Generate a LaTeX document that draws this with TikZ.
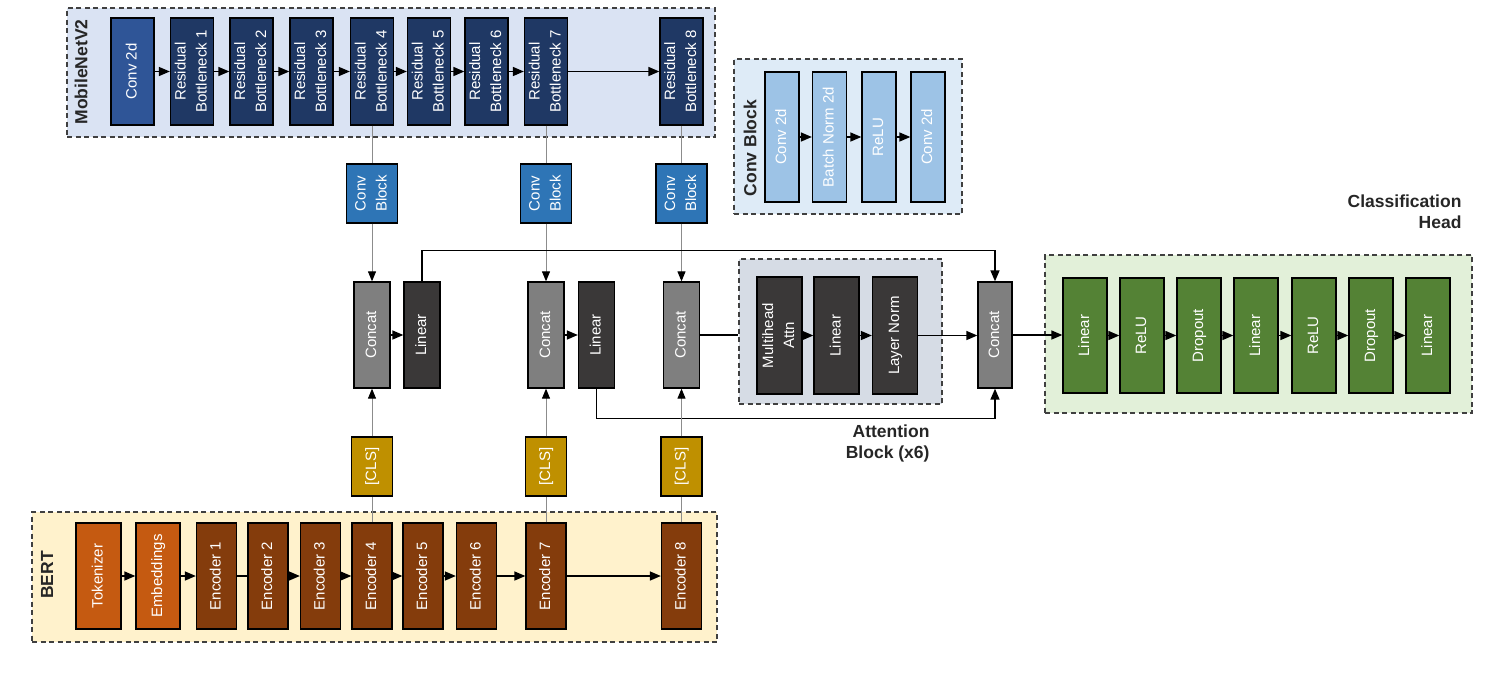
\documentclass[tikz,border=0pt]{standalone}
\usepackage{fontspec}
\setmainfont{Liberation Sans}
\usepackage{graphicx}
\usetikzlibrary{arrows.meta}

\definecolor{mnframe}{HTML}{DAE3F3}
\definecolor{convblue}{HTML}{2F5597}
\definecolor{rbnavy}{HTML}{1F3864}
\definecolor{cbframe}{HTML}{DEEBF7}
\definecolor{cblight}{HTML}{9DC3E6}
\definecolor{cbmid}{HTML}{2E75B6}
\definecolor{concatgray}{HTML}{7F7F7F}
\definecolor{lineardark}{HTML}{3A3838}
\definecolor{attnframe}{HTML}{D6DCE5}
\definecolor{headframe}{HTML}{E2F0D9}
\definecolor{headgreen}{HTML}{548235}
\definecolor{clsgold}{HTML}{BF9000}
\definecolor{bertframe}{HTML}{FFF2CC}
\definecolor{tokorange}{HTML}{C55A11}
\definecolor{encbrown}{HTML}{843C0C}
\definecolor{linkgray}{HTML}{8C8C8C}
\definecolor{framegray}{HTML}{404040}

\newcommand{\rottext}[1]{\rotatebox{90}{\begin{tabular}{@{}c@{}}#1\end{tabular}}}

\tikzset{
  box/.style={draw=black, line width=1.3pt, text=white, inner sep=0pt,
    font=\fontsize{15}{21}\selectfont},
  mnbox/.style={box, minimum width=43pt, minimum height=107pt},
  cbbox/.style={box, fill=cblight, minimum width=34pt, minimum height=130pt},
  midbox/.style={box, fill=cbmid, minimum width=51pt, minimum height=59pt},
  catbox/.style={box, fill=concatgray, minimum width=36pt, minimum height=106pt},
  linbox/.style={box, fill=lineardark, minimum width=36pt, minimum height=106pt},
  attbox/.style={box, fill=lineardark, minimum width=45pt, minimum height=117pt},
  headbox/.style={box, fill=headgreen, minimum width=44pt, minimum height=115pt},
  clsbox/.style={box, fill=clsgold, minimum width=41pt, minimum height=59pt},
  bertbox/.style={box, minimum width=40pt, minimum height=106pt},
  frame/.style={draw=framegray, line width=1.4pt, dash pattern=on 5pt off 3.5pt},
  lbl/.style={font=\fontsize{17.5}{21}\selectfont\bfseries, text=black!85},
  arr/.style={line width=1.5pt, -{Triangle[length=11pt,width=9pt]}},
  link/.style={line width=1.5pt},
  glink/.style={draw=linkgray, line width=1pt},
  garr/.style={glink, -{Triangle[length=10pt,width=8pt,color=black]}}
}

\begin{document}
\begin{tikzpicture}[x=1pt,y=-1pt]
    \useasboundingbox (0,0) rectangle (1496,691);

    % Frames
    \node[frame, fill=mnframe, minimum width=648pt, minimum height=129pt] (mnet) at (391,72.5) {};
    \node[frame, fill=cbframe, minimum width=228pt, minimum height=155pt] (cblk) at (848,136.5) {};
    \node[frame, fill=attnframe, minimum width=203pt, minimum height=145pt] (attn) at (840.5,331.5) {};
    \node[frame, fill=headframe, minimum width=427pt, minimum height=158pt] (head) at (1258.5,334) {};
    \node[frame, fill=bertframe, minimum width=685pt, minimum height=130pt] (bert) at (374.5,577) {};

    \node[lbl, rotate=90] (mnlabel) at (81,72) {MobileNetV2};
    \node[lbl, rotate=90] (cblabel) at (750,148) {Conv Block};
    \node[lbl, rotate=90] (bertlabel) at (47,575) {BERT};
    \node[lbl, align=right, anchor=east] (headlabel) at (1465,212) {Classification\\Head};
    \node[lbl, align=right, anchor=east] (attnlabel) at (933,443) {Attention\\Block (x6)};

    % MobileNetV2
    \node[mnbox, fill=convblue] (conv) at (132.5,71.5) {\rottext{Conv 2d}};
    \node[mnbox, fill=rbnavy] (rb1) at (192,71.5) {\rottext{Residual\\Bottleneck 1}};
    \node[mnbox, fill=rbnavy] (rb2) at (251.5,71.5) {\rottext{Residual\\Bottleneck 2}};
    \node[mnbox, fill=rbnavy] (rb3) at (311.5,71.5) {\rottext{Residual\\Bottleneck 3}};
    \node[mnbox, fill=rbnavy] (rb4) at (372,71.5) {\rottext{Residual\\Bottleneck 4}};
    \node[mnbox, fill=rbnavy] (rb5) at (429,71.5) {\rottext{Residual\\Bottleneck 5}};
    \node[mnbox, fill=rbnavy] (rb6) at (486.5,71.5) {\rottext{Residual\\Bottleneck 6}};
    \node[mnbox, fill=rbnavy] (rb7) at (546,71.5) {\rottext{Residual\\Bottleneck 7}};
    \node[mnbox, fill=rbnavy] (rb8) at (681.5,71.5) {\rottext{Residual\\Bottleneck 8}};
    \draw[arr] (conv) -- (rb1);
    \draw[arr] (rb1) -- (rb2);
    \draw[arr] (rb2) -- (rb3);
    \draw[arr] (rb3) -- (rb4);
    \draw[arr] (rb4) -- (rb5);
    \draw[arr] (rb5) -- (rb6);
    \draw[arr] (rb6) -- (rb7);
    \draw[arr] (rb7) -- (rb8);

    % Conv Block detail
    \node[cbbox] (cbconv1) at (782,137) {\rottext{Conv 2d}};
    \node[cbbox] (cbnorm) at (829.5,137) {\rottext{Batch Norm 2d}};
    \node[cbbox] (cbrelu) at (879,137) {\rottext{ReLU}};
    \node[cbbox] (cbconv2) at (928,137) {\rottext{Conv 2d}};
    \draw[arr] (cbconv1) -- (cbnorm);
    \draw[arr] (cbnorm) -- (cbrelu);
    \draw[arr] (cbrelu) -- (cbconv2);

    % Conv Blocks, Concats and Linears
    \node[midbox] (cb1) at (372,193.5) {\rottext{Conv\\Block}};
    \node[midbox] (cb2) at (546,193.5) {\rottext{Conv\\Block}};
    \node[midbox] (cb3) at (681.5,193.5) {\rottext{Conv\\Block}};
    \node[catbox] (cc1) at (372,335) {\rottext{Concat}};
    \node[linbox] (lin1) at (422,335) {\rottext{Linear}};
    \node[catbox] (cc2) at (546,335) {\rottext{Concat}};
    \node[linbox] (lin2) at (596.5,335) {\rottext{Linear}};
    \node[catbox] (cc3) at (681.5,335) {\rottext{Concat}};
    \node[catbox, minimum width=34pt] (cc4) at (995,335) {\rottext{Concat}};
    \draw[glink] (rb4) -- (cb1);
    \draw[glink] (rb7) -- (cb2);
    \draw[glink] (rb8) -- (cb3);
    \draw[garr] (cb1) -- (cc1);
    \draw[garr] (cb2) -- (cc2);
    \draw[garr] (cb3) -- (cc3);
    \draw[arr] (cc1) -- (lin1);
    \draw[arr] (cc2) -- (lin2);

    % Attention Block
    \node[attbox] (mha) at (779.5,335.5) {\rottext{Multihead\\Attn}};
    \node[attbox] (alin) at (836.5,335.5) {\rottext{Linear}};
    \node[attbox] (lnorm) at (895,335.5) {\rottext{Layer Norm}};
    \draw[link] (cc3.east) -- (attn.west |- cc3.east);
    \draw[arr] (mha) -- (alin);
    \draw[arr] (alin) -- (lnorm);
    \draw[arr] (lnorm.east) -- (cc4.west |- lnorm.east);
    \draw[arr] (lin1.north) -- ++(0,-31) -| (cc4.north);
    \draw[arr] (lin2.south) -- ++(0,30) -| (cc4.south);

    % Classification Head
    \node[headbox] (h1) at (1085,335.5) {\rottext{Linear}};
    \node[headbox] (h2) at (1142,335.5) {\rottext{ReLU}};
    \node[headbox] (h3) at (1199,335.5) {\rottext{Dropout}};
    \node[headbox] (h4) at (1256,335.5) {\rottext{Linear}};
    \node[headbox] (h5) at (1314,335.5) {\rottext{ReLU}};
    \node[headbox] (h6) at (1371,335.5) {\rottext{Dropout}};
    \node[headbox] (h7) at (1428,335.5) {\rottext{Linear}};
    \draw[arr] (cc4.east) -- (h1.west |- cc4.east);
    \draw[arr] (h1) -- (h2);
    \draw[arr] (h2) -- (h3);
    \draw[arr] (h3) -- (h4);
    \draw[arr] (h4) -- (h5);
    \draw[arr] (h5) -- (h6);
    \draw[arr] (h6) -- (h7);

    % CLS tokens
    \node[clsbox] (cls1) at (372,466.5) {\rottext{[CLS]}};
    \node[clsbox] (cls2) at (546,466.5) {\rottext{[CLS]}};
    \node[clsbox] (cls3) at (681.5,466.5) {\rottext{[CLS]}};
    \draw[garr] (cls1) -- (cc1);
    \draw[garr] (cls2) -- (cc2);
    \draw[garr] (cls3) -- (cc3);

    % BERT
    \node[bertbox, fill=tokorange, minimum width=45pt] (tok) at (98.5,576) {\rottext{Tokenizer}};
    \node[bertbox, fill=tokorange, minimum width=44pt] (emb) at (158,576) {\rottext{Embeddings}};
    \node[bertbox, fill=encbrown] (enc1) at (216.5,576) {\rottext{Encoder 1}};
    \node[bertbox, fill=encbrown] (enc2) at (268,576) {\rottext{Encoder 2}};
    \node[bertbox, fill=encbrown] (enc3) at (320.5,576) {\rottext{Encoder 3}};
    \node[bertbox, fill=encbrown] (enc4) at (372,576) {\rottext{Encoder 4}};
    \node[bertbox, fill=encbrown] (enc5) at (423,576) {\rottext{Encoder 5}};
    \node[bertbox, fill=encbrown] (enc6) at (476.5,576) {\rottext{Encoder 6}};
    \node[bertbox, fill=encbrown] (enc7) at (546,576) {\rottext{Encoder 7}};
    \node[bertbox, fill=encbrown] (enc8) at (681.5,576) {\rottext{Encoder 8}};
    \draw[arr] (tok) -- (emb);
    \draw[arr] (emb) -- (enc1);
    \draw[link] (enc1) -- (enc2);
    \draw[arr] (enc2) -- (enc3);
    \draw[arr] (enc3) -- (enc4);
    \draw[arr] (enc4) -- (enc5);
    \draw[arr] (enc5) -- (enc6);
    \draw[arr] (enc6) -- (enc7);
    \draw[arr] (enc7) -- (enc8);
    \draw[glink] (enc4) -- (cls1);
    \draw[glink] (enc7) -- (cls2);
    \draw[glink] (enc8) -- (cls3);
\end{tikzpicture}
\end{document}
